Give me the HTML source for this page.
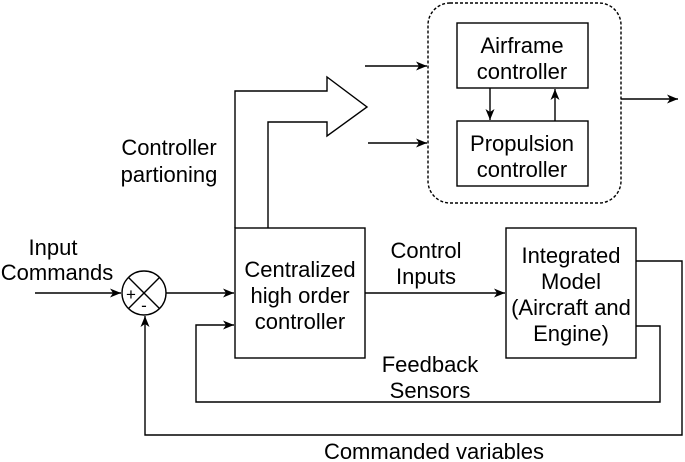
<!DOCTYPE html>
<html><head><meta charset="utf-8"><style>
html,body{margin:0;padding:0;background:#fff;}
svg{display:block;}
text{font-family:"Liberation Sans",Arial,sans-serif;font-size:22px;fill:#000;text-anchor:middle;}
</style></head><body>
<svg width="685" height="462" viewBox="0 0 685 462" xmlns="http://www.w3.org/2000/svg">
<defs>
<marker id="a" markerWidth="12" markerHeight="12" refX="11" refY="6" orient="auto" markerUnits="userSpaceOnUse">
<path d="M0,1.5 L11,6 L0,10.5 L3,6 Z" fill="#000"/></marker>
</defs>
<g fill="none" stroke="#000" stroke-width="1.4">
<rect x="428" y="3" width="193" height="200" rx="22" stroke-dasharray="3,2"/>
<rect x="457" y="23" width="131" height="65"/>
<rect x="457" y="121" width="131" height="65"/>
<line x1="490" y1="88" x2="490" y2="120" marker-end="url(#a)"/>
<line x1="555" y1="121" x2="555" y2="89" marker-end="url(#a)"/>
<line x1="365" y1="66" x2="427" y2="66" marker-end="url(#a)"/>
<line x1="368" y1="143" x2="427" y2="143" marker-end="url(#a)"/>
<line x1="621" y1="99" x2="678" y2="99" marker-end="url(#a)"/>
<path d="M235,228 L235,91 L327,91 L327,77 L367,107 L327,136 L327,122 L268,122 L268,228"/>
<rect x="235" y="228" width="130" height="130"/>
<rect x="506" y="228" width="130" height="130"/>
<circle cx="144" cy="293" r="22"/>
<line x1="128.4" y1="277.4" x2="159.6" y2="308.6"/>
<line x1="159.6" y1="277.4" x2="128.4" y2="308.6"/>
<line x1="35" y1="293" x2="121" y2="293" marker-end="url(#a)"/>
<line x1="166" y1="293" x2="234" y2="293" marker-end="url(#a)"/>
<line x1="365" y1="293" x2="505" y2="293" marker-end="url(#a)"/>
<path d="M636,326 L660,326 L660,402 L196,402 L196,325 L234,325" marker-end="url(#a)"/>
<path d="M636,261 L682,261 L682,435 L145,435 L145,316" marker-end="url(#a)"/>
</g>
<text x="522" y="53">Airframe</text>
<text x="522" y="79">controller</text>
<text x="522" y="151">Propulsion</text>
<text x="522" y="177">controller</text>
<text x="169" y="155">Controller</text>
<text x="169" y="182">partioning</text>
<text x="300" y="277">Centralized</text>
<text x="300" y="303">high order</text>
<text x="300" y="329">controller</text>
<text x="426" y="258">Control</text>
<text x="426" y="284">Inputs</text>
<text x="571" y="263">Integrated</text>
<text x="571" y="289">Model</text>
<text x="571" y="315">(Aircraft and</text>
<text x="571" y="341">Engine)</text>
<text x="53" y="255">Input</text>
<text x="57" y="280">Commands</text>
<text x="430" y="372">Feedback</text>
<text x="430" y="398">Sensors</text>
<text x="434" y="459">Commanded variables</text>
<text x="131" y="300" style="font-size:17px">+</text>
<text x="144" y="311" style="font-size:17px">-</text>
</svg>
</body></html>
